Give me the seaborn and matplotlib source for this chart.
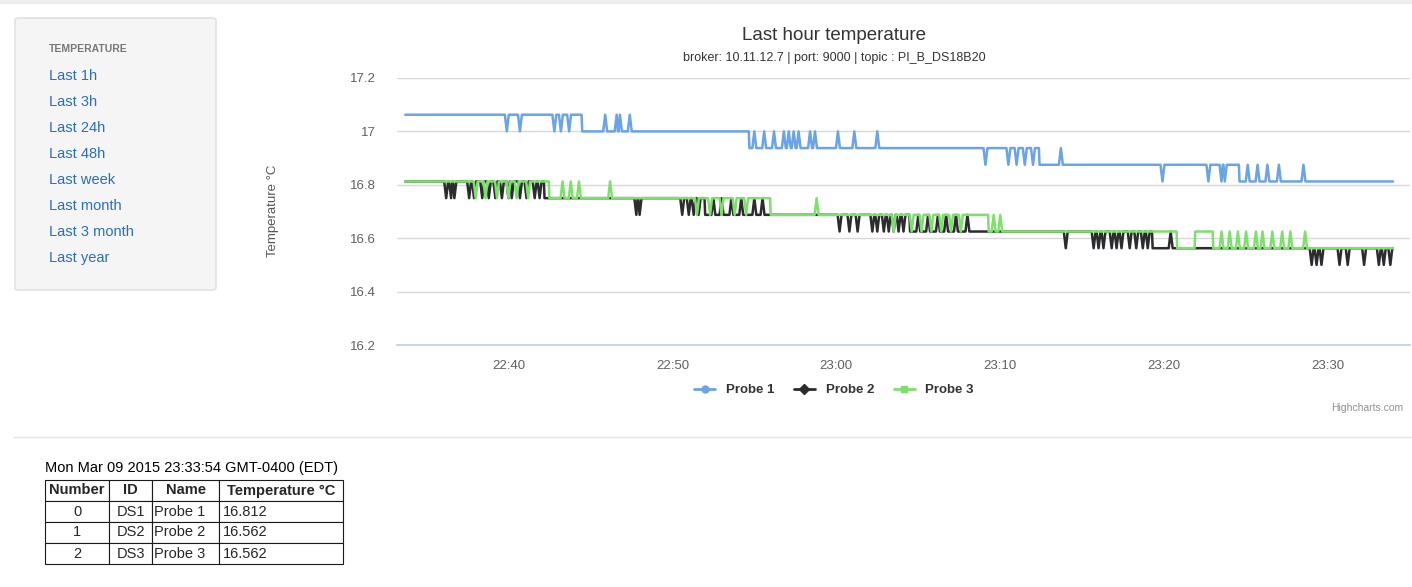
import numpy as np
import pandas as pd
import seaborn as sns
import matplotlib
matplotlib.use("Agg")
import matplotlib.pyplot as plt
from matplotlib.patches import FancyBboxPatch
from matplotlib.lines import Line2D

# ---- data (minutes after 22:00, temperatures in °C) ----
t_start, t_end = 33.7, 94.0
# Probe 1: base level changes and short pulses (time, level)
p1_steps_t = [33.7, 44.5, 54.7, 72.4, 84.6]
p1_steps_v = [17.0625, 17.0, 16.9375, 16.875, 16.8125]
p1_pulses_t = [39.9, 40.7, 42.8, 43.2, 43.7, 45.9, 46.6, 46.8, 47.4,
               55.0, 55.6, 56.2, 56.8, 57.1, 57.4, 57.7, 58.4, 58.7, 60.1, 61.1, 62.5,
               69.1, 70.5, 71.0, 71.5, 72.0, 73.7, 79.9, 82.7, 83.5, 83.7,
               85.1, 85.7, 86.3, 87.0, 88.5]
p1_pulses_v = [17.0, 17.0, 17.0, 17.0, 17.0, 17.0625, 17.0625, 17.0625, 17.0625,
               17.0, 17.0, 17.0, 17.0, 17.0, 17.0, 17.0, 17.0, 17.0, 17.0, 17.0, 17.0,
               16.875, 16.875, 16.875, 16.875, 16.875, 16.9375, 16.8125, 16.8125, 16.8125, 16.8125,
               16.875, 16.875, 16.875, 16.875, 16.875]
# Probe 2
p2_steps_t = [33.7, 42.2, 52.0, 64.5, 79.3]
p2_steps_v = [16.8125, 16.75, 16.6875, 16.625, 16.5625]
p2_pulses_t = [36.2, 36.5, 36.7, 37.6, 37.9, 38.4, 38.8, 39.2, 39.6, 40.0, 40.2, 40.7, 41.1, 41.6, 41.9,
               47.8, 48.0, 50.6, 51.0, 51.3, 51.6,
               52.5, 53.0, 53.6, 54.2, 55.0, 55.5,
               60.2, 60.8, 61.3, 62.2, 62.5, 62.9, 63.2, 63.5, 63.8, 64.1,
               65.0, 65.6, 66.2, 66.7, 67.3, 68.0,
               74.0, 75.7, 76.0, 76.3, 76.8, 77.1, 77.4, 77.9, 78.3, 78.7, 79.0, 80.4,
               89.0, 89.3, 89.6, 90.7, 91.2, 92.2, 93.1, 93.4, 93.8]
p2_pulses_v = [16.75] * 15 + [16.6875] * 6 + [16.75] * 6 + [16.625] * 10 + [16.6875] * 6 + \
              [16.5625] * 11 + [16.625] + [16.5] * 9
# Probe 3
p3_steps_t = [33.7, 42.5, 51.0, 56.0, 62.8, 69.3, 79.3, 80.8, 81.9, 83.0]
p3_steps_v = [16.8125, 16.75, 16.75, 16.6875, 16.6875, 16.625, 16.625, 16.5625, 16.625, 16.5625]
p3_pulses_t = [38.0, 38.6, 39.3, 40.0, 40.5, 41.2, 43.3, 43.8, 44.3, 46.2,
               51.5, 52.3, 53.0, 53.8, 54.5, 58.8,
               63.5, 64.6, 65.2, 65.8, 66.4, 67.0, 67.6, 69.6, 70.0,
               83.5, 84.0, 84.5, 85.0, 85.6, 86.0, 86.6, 87.2, 87.7, 88.6]
p3_pulses_v = [16.75] * 6 + [16.8125] * 4 + [16.6875] * 5 + [16.75] + [16.625] * 7 + [16.6875] * 2 + \
              [16.625] * 10

x_ticks = [40, 50, 60, 70, 80, 90]
x_tick_labels = ["22:40", "22:50", "23:00", "23:10", "23:20", "23:30"]
y_ticks = [16.2, 16.4, 16.6, 16.8, 17.0, 17.2]
y_tick_labels = ["16.2", "16.4", "16.6", "16.8", "17", "17.2"]

table_cols = ["Number", "ID", "Name", "Temperature °C"]
table_rows = [["0", "DS1", "Probe 1", "16.812"],
              ["1", "DS2", "Probe 2", "16.562"],
              ["2", "DS3", "Probe 3", "16.562"]]
menu_items = ["Last 1h", "Last 3h", "Last 24h", "Last 48h", "Last week",
              "Last month", "Last 3 month", "Last year"]


def build(steps_t, steps_v, pulses_t, pulses_v, w=0.12):
    pts = []
    for i, (t, v) in enumerate(zip(steps_t, steps_v)):
        pts.append((t, v))
        nxt = steps_t[i + 1] if i + 1 < len(steps_t) else t_end
        for pt, pv in zip(pulses_t, pulses_v):
            if t < pt < nxt:
                pts += [(pt - w, v), (pt, pv), (pt + w, v)]
        pts.append((nxt - 0.04, v))
    pts.sort()
    return pd.DataFrame(pts, columns=["t", "v"])


sns.set_theme(style="white")
plt.rcParams['font.family'] = ['Liberation Sans', 'DejaVu Sans']

fig = plt.figure(figsize=(14.12, 5.87), dpi=100)
W, H = 1412, 587


def fx(x): return x / W
def fy(y): return 1 - y / H


ax = fig.add_axes([fx(397), fy(345), fx(1410) - fx(397), fy(78) - fy(345)])
colors = ["#6aa3e6", "#2b2b30", "#7ee06c"]
series = [build(p1_steps_t, p1_steps_v, p1_pulses_t, p1_pulses_v),
          build(p2_steps_t, p2_steps_v, p2_pulses_t, p2_pulses_v),
          build(p3_steps_t, p3_steps_v, p3_pulses_t, p3_pulses_v)]
for df, c in zip(series, colors):
    sns.lineplot(data=df, x="t", y="v", ax=ax, color=c, lw=1.8, sort=False, estimator=None)

ax.set_xlim(33.2, 95.0)
ax.set_ylim(16.2, 17.2)
ax.set_yticks(y_ticks)
ax.set_yticklabels(y_tick_labels, fontsize=9.5, color="#606060")
ax.set_xticks(x_ticks)
ax.set_xticklabels(x_tick_labels, fontsize=9.5, color="#606060")
ax.tick_params(axis="x", length=5, color="#c0d0e0", pad=6)
ax.tick_params(axis="y", length=0, pad=15)
for yt in y_ticks[1:]:
    ax.axhline(yt, color="#d8d8d8", lw=1, zorder=0)
for s in ["top", "right", "left"]:
    ax.spines[s].set_visible(False)
ax.spines["bottom"].set_color("#c0d0e0")
ax.set_xlabel("")
ax.set_ylabel("")

fig.text(fx(834), fy(35), "Last hour temperature", ha="center", va="center", fontsize=13.5, color="#333333")
fig.text(fx(834), fy(58), "broker: 10.11.12.7 | port: 9000 | topic : PI_B_DS18B20", ha="center",
         va="center", fontsize=9, color="#333333")
fig.text(fx(273), fy(211), "Temperature °C", rotation=90, ha="center", va="center", fontsize=9.5, color="#555555")
fig.text(fx(1403), fy(408), "Highcharts.com", ha="right", va="center", fontsize=7.5, color="#909090")

handles = [Line2D([], [], color=c, lw=2, marker=m, markersize=5)
           for c, m in zip(colors, ["o", "D", "s"])]
fig.legend(handles, ["Probe 1", "Probe 2", "Probe 3"], loc="center", bbox_to_anchor=(fx(834), fy(390)),
           ncol=3, frameon=False, prop={"weight": "bold", "size": 9.5}, handlelength=1.6,
           columnspacing=1.5, labelcolor="#333333")

# page decorations
fig.add_artist(Line2D([0, 1], [fy(2), fy(2)], color="#eeeeee", lw=3))
fig.add_artist(Line2D([fx(14), 1], [fy(437), fy(437)], color="#e5e5e5", lw=1))
fig.add_artist(FancyBboxPatch((fx(15), fy(290)), fx(201), fy(18) - fy(290),
                              boxstyle="round,pad=0,rounding_size=0.003", fc="#f5f5f5", ec="#dddddd", lw=1))
fig.text(fx(49), fy(49), "TEMPERATURE", fontsize=7.5, weight="bold", color="#777777", va="center")
for i, item in enumerate(menu_items):
    fig.text(fx(49), fy(76 + 26 * i), item, fontsize=10.5, color="#2a6ebb", va="center")

fig.text(fx(45), fy(468), "Mon Mar 09 2015 23:33:54 GMT-0400 (EDT)", fontsize=10.5, color="#000000", va="center")
tax = fig.add_axes([fx(45), fy(564), fx(343) - fx(45), fy(480) - fy(564)])
tax.axis("off")
tbl = tax.table(cellText=table_rows, colLabels=table_cols, bbox=[0, 0, 1, 1],
                colWidths=[64, 43, 67, 124], cellLoc="left")
tbl.auto_set_font_size(False)
tbl.set_fontsize(10.5)
for (r, c), cell in tbl.get_celld().items():
    cell.set_linewidth(0.8)
    if r == 0:
        cell.get_text().set_weight("bold")
        cell.get_text().set_ha("center")
    elif c in (0, 1):
        cell.get_text().set_ha("center")
    cell.PAD = 0.03

fig.savefig("out.png", dpi=100)
